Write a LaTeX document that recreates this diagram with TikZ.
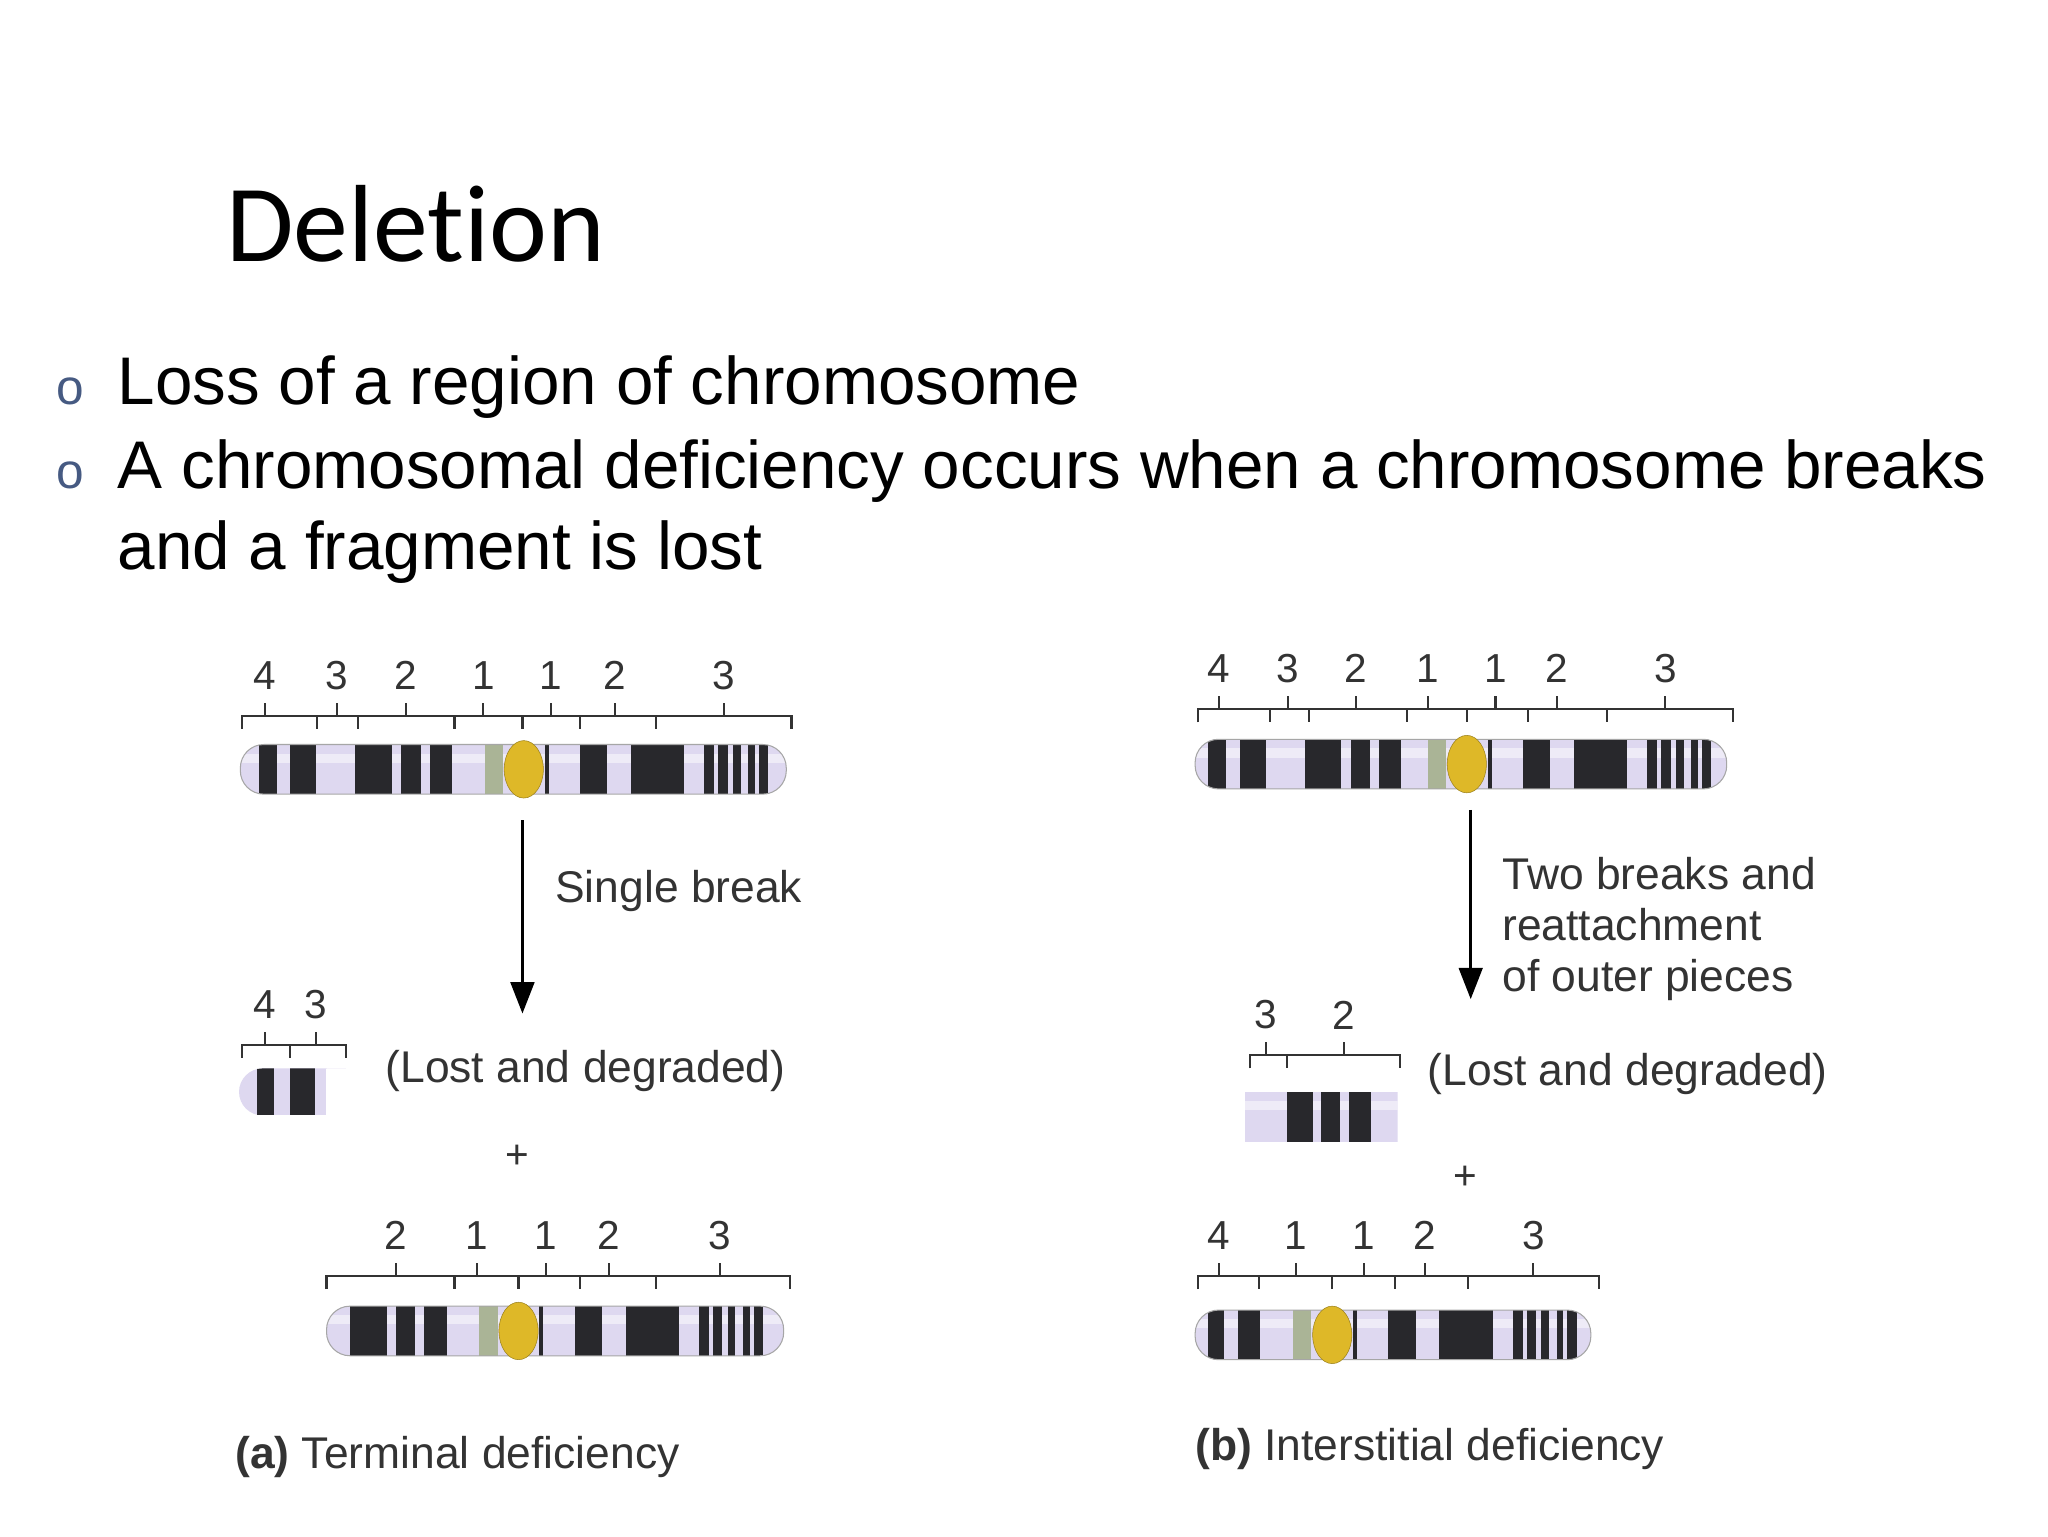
\documentclass[tikz,border=0pt]{standalone}
\usepackage{fontspec}
\setmainfont{Liberation Sans}
\newfontfamily\titlefont[Ligatures=NoCommon]{Carlito}
\usetikzlibrary{arrows.meta}
\definecolor{chromfill}{RGB}{222,216,240}
\definecolor{bandc}{RGB}{40,40,44}
\definecolor{centroc}{RGB}{222,184,40}
\definecolor{greyband}{RGB}{170,180,150}
\definecolor{bulletc}{RGB}{70,90,130}
\tikzset{
  num/.style={font=\fontsize{31}{31}\selectfont, text=black!80, inner sep=0pt},
  lbl/.style={font=\fontsize{34}{39}\selectfont, text=black!80, anchor=west, inner sep=0pt, align=left},
  ruler/.style={line width=1.6pt, black!80},
  bandstyle/.style={fill=bandc},
}
\newcommand\mychrom[5]{%
  \begin{scope}
    \path[clip,rounded corners=18pt] (#2,#4-19) rectangle (#3,#4+19);
    \fill[chromfill] (#2,#4-19) rectangle (#3,#4+19);
    \fill[white,opacity=0.5] (#2,#4-12) rectangle (#3,#4-5);
    \fill[greyband] (#1-30,#4-19) rectangle (#1-16,#4+19);
    \foreach \a/\b in {#5} \fill[bandstyle] (#1+\a,#4-19) rectangle (#1+\b,#4+19);
  \end{scope}
  \draw[rounded corners=18pt, black!35, line width=0.8pt] (#2,#4-19) rectangle (#3,#4+19);
  \fill[centroc, draw=centroc!70!black] (#1,#4) ellipse (15pt and 22pt);
}
\newcommand\myruler[5]{%
  \draw[ruler] (#2,#1+10) -- (#2,#1) -- (#3,#1) -- (#3,#1+10);
  \foreach \d in {#4} \draw[ruler] (\d,#1) -- (\d,#1+10);
  \foreach \x/\t in {#5} {\draw[ruler] (\x,#1) -- (\x,#1-10); \node[num] at (\x,#1-31) {\t};}
}
\begin{document}
\begin{tikzpicture}[x=1pt,y=-1pt]
\useasboundingbox (0,0) rectangle (1568,1176);
\fill[white] (0,0) rectangle (1568,1176);
% title and bullets
\node[anchor=base west, inner sep=0pt, font=\titlefont\fontsize{84}{84}\selectfont] (title) at (173,200) {Deletion};
\node[anchor=base west, inner sep=0pt, text=bulletc, font=\fontsize{38}{38}\selectfont] (b1) at (43,310) {o};
\node[anchor=base west, inner sep=0pt, text=bulletc, font=\fontsize{38}{38}\selectfont] (b2) at (43,374) {o};
\node[anchor=base west, inner sep=0pt, font=\fontsize{51.6}{51.6}\selectfont] (t1) at (90,310) {Loss of a region of chromosome};
\node[anchor=base west, inner sep=0pt, font=\fontsize{51.6}{51.6}\selectfont] (t2) at (90,374) {A chromosomal deficiency occurs when a chromosome breaks};
\node[anchor=base west, inner sep=0pt, font=\fontsize{51.6}{51.6}\selectfont] (t3) at (90,436) {and a fragment is lost};

% ---------- (a) ----------
\myruler{548}{185}{606}{243,274,348,400,444,502}{203/4,258/3,311/2,370/1,422/1,471/2,554/3}
\mychrom{401}{184}{602}{589}{-203/-189,-179/-159,-129/-101,-94/-79,-72/-55,16/19,43/64,82/123,138/146,149/156,160/166,172/177,180/187}
\coordinate (a1) at (400,628); \coordinate (a2) at (400,776);
\draw[line width=2.5pt, -{Triangle[length=24pt,width=18pt]}] (a1) -- (a2);
\node[lbl] (sb) at (425,682) {Single break};
% fragment
\myruler{800}{185}{265}{222}{203/4,242/3}
\begin{scope}
  \path[clip] (265,818) -- (201,818) arc[start angle=90,end angle=270,radius=18pt] -- (265,854) -- cycle;
  \fill[chromfill] (183,818) rectangle (265,854);
  \fill[bandstyle] (197,818) rectangle (210,854);
  \fill[bandstyle] (222,818) rectangle (241,854);
  \shade[left color=chromfill!0, right color=white] (250,818) rectangle (265,854);
\end{scope}
\node[lbl] (lost1) at (295,820) {(Lost and degraded)};
\node[num] (plus1) at (396,886) {+};
\myruler{977}{250}{605}{348,397,444,502}{303/2,365/1,418/1,466/2,551/3}
\mychrom{397}{250}{600}{1019}{-129/-101,-94/-79,-72/-55,16/19,43/64,82/123,138/146,149/156,160/166,172/177,180/187}
\node[lbl, anchor=base west] (capa) at (180,1124) {\textbf{(a)} Terminal deficiency};

% ---------- (b) ----------
\myruler{543}{917}{1327}{972,1002,1077,1123,1170,1230}{933/4,986/3,1038/2,1093/1,1145/1,1192/2,1275/3}
\mychrom{1123}{915}{1322}{585}{-198/-184,-174/-154,-124/-96,-89/-74,-67/-50,16/19,43/64,82/123,138/146,149/156,160/166,172/177,180/187}
\coordinate (b1a) at (1126,620); \coordinate (b2a) at (1126,765);
\draw[line width=2.5pt, -{Triangle[length=24pt,width=18pt]}] (b1a) -- (b2a);
\node[lbl] (tb) at (1150,711) {Two breaks and\\reattachment\\of outer pieces};
\myruler{808}{957}{1072}{985}{969/3,1029/2}
\begin{scope}
  \path[clip] (953,836) rectangle (1070,874);
  \fill[chromfill] (953,836) rectangle (1070,874);
  \fill[white,opacity=0.5] (953,843) rectangle (1070,850);
  \fill[bandstyle] (985,836) rectangle (1005,874);
  \fill[bandstyle] (1011,836) rectangle (1026,874);
  \fill[bandstyle] (1033,836) rectangle (1050,874);
\end{scope}
\node[lbl] (lost2) at (1093,822) {(Lost and degraded)};
\node[num] (plus2) at (1122,902) {+};
\myruler{977}{917}{1224}{964,1020,1068,1124}{933/4,992/1,1044/1,1091/2,1174/3}
\mychrom{1020}{915}{1218}{1022}{-95/-83,-72/-55,16/19,43/64,82/123,138/146,149/156,160/166,172/177,180/187}
\node[lbl, anchor=base west] (capb) at (915,1118) {\textbf{(b)} Interstitial deficiency};
\end{tikzpicture}
\end{document}
